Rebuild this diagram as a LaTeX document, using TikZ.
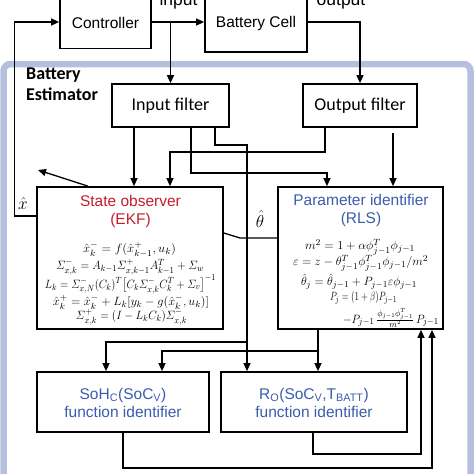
\documentclass[tikz,border=0pt]{standalone}
\usepackage{amsmath}
\usepackage{graphicx}
\usepackage{fontspec}
\setmainfont{Liberation Sans}
\newfontfamily\calfont{Carlito}
\usetikzlibrary{arrows.meta}
\definecolor{frameblue}{RGB}{180,192,222}
\definecolor{titlered}{RGB}{196,30,42}
\definecolor{titleblue}{RGB}{58,92,172}
\newcommand{\eqw}[2]{\resizebox{#1pt}{\height}{$#2$}}
\tikzset{
  box/.style={draw, line width=1.7pt, inner sep=0pt},
  lbl/.style={font=\fontsize{15.5}{18}\selectfont, align=center, inner sep=0pt},
  filt/.style={font=\calfont\fontsize{18}{21}\selectfont, inner sep=0pt},
  eq/.style={font=\fontsize{12.5}{15}\selectfont, inner sep=0pt},
  conn/.style={line width=1.3pt},
  arr/.style={line width=1.3pt, -{Triangle[length=8pt,width=7pt]}},
}
\begin{document}
\begin{tikzpicture}[x=1pt,y=-1pt]
\useasboundingbox (0,0) rectangle (474,474);
% estimator frame
\draw[line width=6.5pt, color=frameblue, rounded corners=7pt] (3.5,64) rectangle (470.5,540);
\node[anchor=north west, align=left, inner sep=0pt, font=\calfont\bfseries\fontsize{18}{21}\selectfont] (est) at (26,68) {Battery\\Estimator};

% boxes
\node[box, minimum width=91pt, minimum height=53pt] (ctrl) at (105.5,22) {};
\node[lbl] (ctrlt) at (105.5,23) {Controller};
\node[box, minimum width=102pt, minimum height=60pt] (cell) at (256,22) {};
\node[lbl] (cellt) at (256,23) {Battery Cell};
\node[box, minimum width=117pt, minimum height=43pt] (infilt) at (170.5,105.5) {};
\node[filt] (infiltt) at (170.5,106) {Input filter};
\node[box, minimum width=114pt, minimum height=43pt] (outfilt) at (360,105.5) {};
\node[filt] (outfiltt) at (360,106) {Output filter};
\node[box, minimum width=186pt, minimum height=142pt] (obs) at (130,258) {};
\node[box, minimum width=165pt, minimum height=142pt] (par) at (360.5,258) {};
\node[box, minimum width=172pt, minimum height=60pt] (soh) at (123,402) {};
\node[box, minimum width=186pt, minimum height=60pt] (ro) at (314,402) {};

% texts in boxes
\node[lbl, text=titlered] (obst) at (130.5,211) {State observer\\(EKF)};
\node[lbl, text=titleblue] (part) at (361,210.5) {Parameter identifier\\(RLS)};
\node[lbl, text=titleblue] (soht) at (123,402.5) {SoH\textsubscript{C}(SoC\textsubscript{V})\\function identifier};
\node[lbl, text=titleblue] (rot) at (314,402.5) {R\textsubscript{O}(SoC\textsubscript{V},T\textsubscript{BATT})\\function identifier};

\node[eq] (e1) at (129.5,250) {\eqw{93}{\hat{x}_k^- = f(\hat{x}_{k-1}^+, u_k)}};
\node[eq] (e2) at (130,267) {\eqw{148}{\varSigma_{x,k}^- = A_{k-1}\varSigma_{x,k-1}^+A_{k-1}^T + \varSigma_w}};
\node[eq] (e3) at (130.5,284.5) {\eqw{171}{L_k = \varSigma_{x,N}^-(C_k)^T\bigl[C_k\varSigma_{x,k}^-C_k^T + \varSigma_v\bigr]^{-1}}};
\node[eq] (e4) at (131,302) {\eqw{156}{\hat{x}_k^+ = \hat{x}_k^- + L_k[y_k - g(\hat{x}_k^-, u_k)]}};
\node[eq] (e5) at (131.5,317) {\eqw{111}{\varSigma_{x,k}^+ = (I - L_kC_k)\varSigma_{x,k}^-}};

\node[eq] (r1) at (360,247) {\eqw{110}{m^2 = 1 + \alpha\phi_{j-1}^T\phi_{j-1}}};
\node[eq] (r2) at (360.5,263) {\eqw{135}{\varepsilon = z - \theta_{j-1}^T\phi_{j-1}^T\phi_{j-1}/m^2}};
\node[eq] (r3) at (359,282) {\eqw{116}{\hat{\theta}_j = \hat{\theta}_{j-1} + P_{j-1}\varepsilon\phi_{j-1}}};
\node[eq] (r4) at (363.5,298) {\eqw{67}{P_j = (1+\beta)P_{j-1}}};
\node[eq, anchor=east] (r5) at (439,318) {\eqw{96}{-P_{j-1}\,\frac{\phi_{j-1}\phi_{j-1}^T}{m^2}\,P_{j-1}}};

% labels
\node[inner sep=0pt, font=\fontsize{17.5}{20}\selectfont, anchor=base] (inl) at (178.5,5) {input};
\node[inner sep=0pt, font=\fontsize{17.5}{20}\selectfont, anchor=base] (outl) at (341,5) {output};
\node[inner sep=0pt, font=\fontsize{17}{20}\selectfont] (xh) at (23,203) {$\hat{x}$};
\node[inner sep=0pt, font=\fontsize{17}{20}\selectfont] (th) at (260,219) {$\hat{\theta}$};

% connectors top
\draw[arr] (ctrl.east) -- (cell.west);
\coordinate (inbr) at (170.5,22);
\draw[arr] (inbr) -- (infilt.north);
\draw[arr] (cell.east) -| (outfilt.north);
\draw[arr] ([yshift=42pt]obs.west) -- ++(-22,0) |- (ctrl.west);
\coordinate (diagend) at (38,170);
\draw[arr] ([xshift=-42pt]obs.north) -- (diagend);

% filters to estimators
\draw[arr] ([xshift=-36.5pt]infilt.south) -- ([xshift=-36.5pt]infilt.south |- obs.north);
\draw[arr] ([xshift=-35pt]outfilt.south) -- ++(0,24) -| ([xshift=40pt]obs.north);
\draw[arr] ([xshift=20.5pt]infilt.south) -- ++(0,45) -| ([xshift=-33.5pt]par.north);
\draw[arr] ([xshift=33pt,yshift=-5pt]outfilt.south) -- ([xshift=33pt]outfilt.south |- par.north);
\draw[arr] ([xshift=44.5pt]infilt.south) -- ++(0,17) -| ([xshift=-67pt]ro.north);
\coordinate (ubr) at (247,342);
\draw[arr] (ubr) -| ([xshift=-17pt]soh.north);

% theta
\coordinate (tk) at (240,238);
\draw[conn] ([yshift=25pt]obs.east) -- (tk) -- ([yshift=20pt]par.west);

% parameter identifier to function identifiers
\draw[arr] ([xshift=-42.5pt]par.south) -- ([xshift=-42.5pt]par.south |- ro.north);
\coordinate (pbr) at (318,351);
\draw[arr] (pbr) -| ([xshift=39pt]soh.north);

% feedback to parameter identifier
\draw[arr] ([xshift=-1pt]ro.south) -- ++(0,21) -| ([xshift=60.5pt]par.south);
\draw[arr] (soh.south) -- ++(0,35) -| ([xshift=71.5pt]par.south);
\end{tikzpicture}
\end{document}
